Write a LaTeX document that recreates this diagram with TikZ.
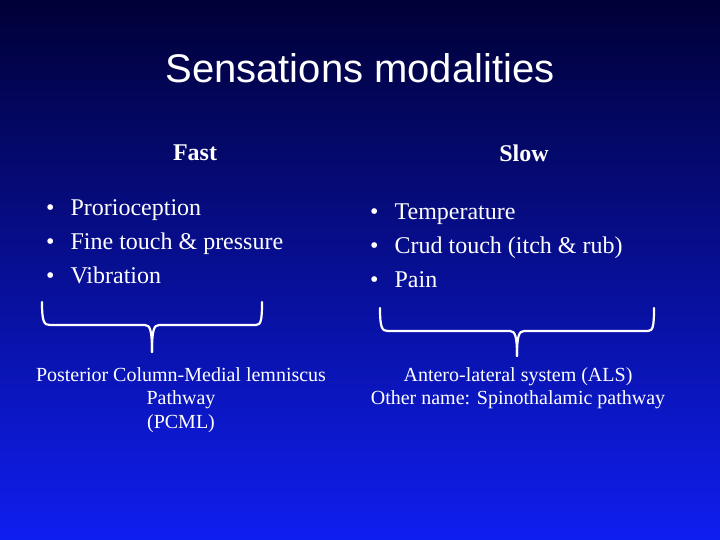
\documentclass[tikz,border=0pt]{standalone}
\usepackage{fontspec}
\setmainfont{Liberation Serif}
\newfontfamily\titlefont{Liberation Sans}
\definecolor{topbg}{RGB}{0,0,55}
\definecolor{botbg}{RGB}{15,30,240}
\begin{document}
\begin{tikzpicture}[x=1pt,y=-1pt,
  head/.style={text=white,font=\fontsize{24}{28}\selectfont\bfseries},
  item/.style={text=white,font=\fontsize{24}{34}\selectfont,anchor=north west,align=left,inner sep=0pt},
  captext/.style={text=white,font=\fontsize{20}{23.5}\selectfont,align=center,anchor=north,inner sep=0pt},
  brace/.style={draw=white,line width=2.2pt,line cap=round,line join=round}]
\shade[top color=topbg,bottom color=botbg] (0,0) rectangle (720,540);
\useasboundingbox (0,0) rectangle (720,540);
\node[text=white,font=\titlefont\fontsize{40}{46}\selectfont] (title) at (360,68) {Sensations modalities};
\node[head] (fast) at (195,153) {Fast};
\node[head] (slow) at (524,153) {Slow};
\node[item] (l1) at (46,199) {\textbullet\hspace{16pt}Prorioception\\\textbullet\hspace{16pt}Fine touch \& pressure\\\textbullet\hspace{16pt}Vibration};
\node[item] (l2) at (370,204) {\textbullet\hspace{16pt}Temperature\\\textbullet\hspace{16pt}Crud touch (itch \& rub)\\\textbullet\hspace{16pt}Pain};
\coordinate (b1) at (152,352);
\coordinate (b2) at (517,356);
\draw[brace] (42,302) .. controls (42,322) and (44,325) .. (50,325) -- (145,325) .. controls (150,325) and (152,330) .. (b1);
\draw[brace] (b1) .. controls (152,330) and (154,325) .. (159,325) -- (256,325) .. controls (261,325) and (262,320) .. (262,302);
\draw[brace] (380,308) .. controls (380,328) and (382,331) .. (388,331) -- (510,331) .. controls (515,331) and (517,336) .. (b2);
\draw[brace] (b2) .. controls (517,336) and (519,331) .. (524,331) -- (648,331) .. controls (653,331) and (654,326) .. (654,308);
\node[captext] (c1) at (181,367) {Posterior Column-Medial lemniscus\\Pathway\\(PCML)};
\node[captext] (c2) at (518,367) {Antero-lateral system (ALS)\\Other name: Spinothalamic pathway};
\end{tikzpicture}
\end{document}
